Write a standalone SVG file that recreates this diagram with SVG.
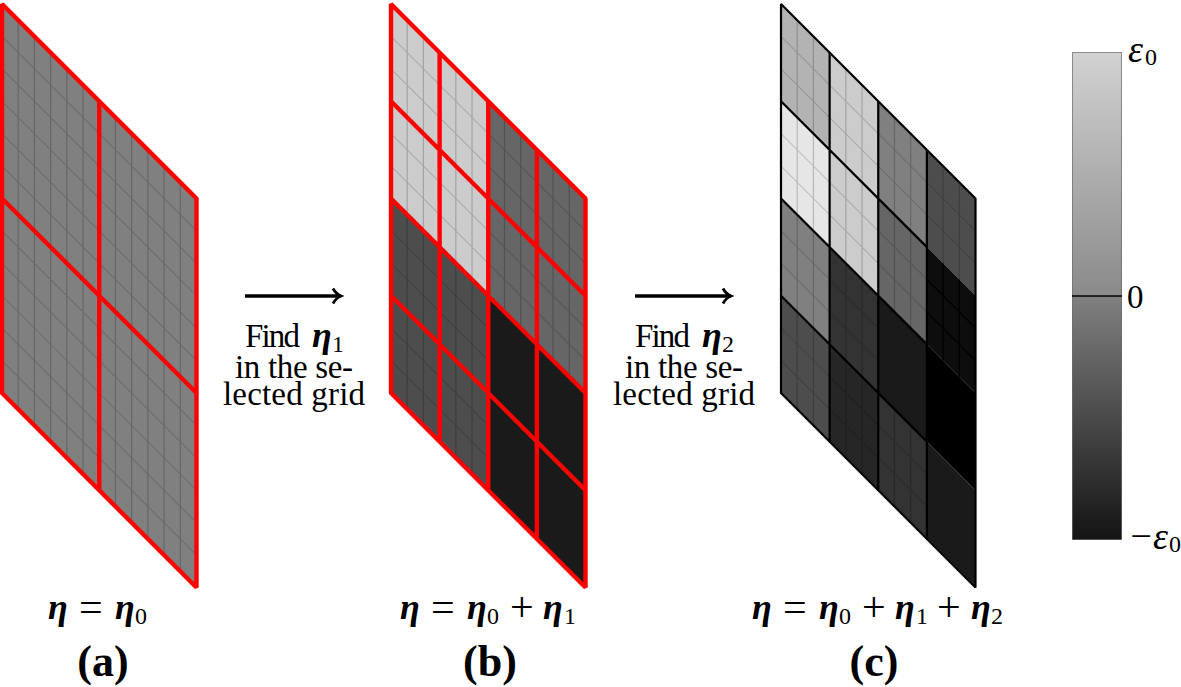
<svg xmlns="http://www.w3.org/2000/svg" width="1181" height="687" viewBox="0 0 1181 687">
<style>
text{font-family:"Liberation Serif","Times New Roman",serif;fill:#000}
.lb{font-size:33px}
.m{font-size:42px}
.b{font-weight:bold;font-style:italic;font-size:36px}
.s{font-size:24px}
.i{font-style:italic;font-size:38px}
.t{font-weight:bold;font-size:44px;text-anchor:middle}
.g{fill:none;stroke:#000;stroke-opacity:.2;stroke-width:1.2;vector-effect:non-scaling-stroke}
.r{fill:none;stroke:#f00;stroke-width:4.4;stroke-linejoin:bevel;vector-effect:non-scaling-stroke}
.k{fill:none;stroke:#000;stroke-width:2.2;stroke-linejoin:bevel;vector-effect:non-scaling-stroke}
.cn{fill:none;stroke:#000;stroke-width:3.4;marker-end:url(#ah)}
</style>
<defs>
<path id="grid" d="M16.21 0V389M32.42 0V389M48.62 0V389M64.83 0V389M81.04 0V389M97.25 0V389M113.46 0V389M129.67 0V389M145.88 0V389M162.08 0V389M178.29 0V389M0 32.42H194.5M0 64.83H194.5M0 97.25H194.5M0 129.67H194.5M0 162.08H194.5M0 194.5H194.5M0 226.92H194.5M0 259.33H194.5M0 291.75H194.5M0 324.17H194.5M0 356.58H194.5"/>
<marker id="ah" markerUnits="userSpaceOnUse" markerWidth="14" markerHeight="20" refX="11" refY="10" orient="auto">
<path d="M3 2.5Q6 8 11 10Q6 12 3 17.5" fill="none" stroke="#000" stroke-width="2.8"/>
</marker>
<linearGradient id="cb" x1="0" y1="0" x2="0" y2="1">
<stop offset="0" stop-color="#d2d2d2"/><stop offset=".5" stop-color="#8a8a8a"/><stop offset=".5" stop-color="#808080"/><stop offset="1" stop-color="#141414"/>
</linearGradient>
</defs>

<g id="panel-a" transform="matrix(1 1 0 1 2 4)">
<rect width="194.5" height="389" fill="#808080"/>
<use href="#grid" class="g"/>
<path class="r" d="M97.25 0V389M0 194.5H194.5"/>
<rect class="r" width="194.5" height="389"/>
</g>

<g id="panel-b" transform="matrix(1 1 0 1 391 4)">
<rect width="97.25" height="194.5" fill="#ccc"/>
<rect y="194.5" width="97.25" height="194.5" fill="#4d4d4d"/>
<rect x="97.25" width="97.25" height="194.5" fill="#666"/>
<use href="#grid" class="g"/>
<rect x="97.25" y="194.5" width="97.25" height="194.5" fill="#1a1a1a"/>
<path class="r" d="M48.62 0V389M97.25 0V389M145.88 0V389M0 97.25H194.5M0 194.5H194.5M0 291.75H194.5"/>
<rect class="r" width="194.5" height="389"/>
</g>

<g id="panel-c" transform="matrix(1 1 0 1 781 4)">
<rect x="0" y="0" width="48.63" height="97.25" fill="#b3b3b3"/>
<rect x="0" y="97.25" width="48.63" height="97.25" fill="#e6e6e6"/>
<rect x="0" y="194.5" width="48.63" height="97.25" fill="#808080"/>
<rect x="0" y="291.75" width="48.63" height="97.25" fill="#4d4d4d"/>
<rect x="48.62" y="0" width="48.63" height="194.5" fill="#ccc"/>
<rect x="48.62" y="194.5" width="48.63" height="97.25" fill="#333"/>
<rect x="48.62" y="291.75" width="48.63" height="97.25" fill="#262626"/>
<rect x="97.25" y="0" width="48.63" height="97.25" fill="#808080"/>
<rect x="97.25" y="97.25" width="48.63" height="97.25" fill="#666"/>
<rect x="97.25" y="291.75" width="48.63" height="97.25" fill="#333"/>
<rect x="145.87" y="0" width="48.63" height="97.25" fill="#4d4d4d"/>
<rect x="145.87" y="97.25" width="48.63" height="97.25" fill="#0d0d0d"/>
<use href="#grid" class="g"/>
<path d="M162.08 97.25V194.5M178.29 97.25V194.5M145.87 129.67H194.5M145.87 162.08H194.5" fill="none" stroke="#000" stroke-width="1.2" vector-effect="non-scaling-stroke"/>
<rect x="97.25" y="194.5" width="48.63" height="97.25" fill="#1a1a1a"/>
<rect x="145.87" y="194.5" width="48.63" height="97.25" fill="#000"/>
<rect x="145.87" y="291.75" width="48.63" height="97.25" fill="#1a1a1a"/>
<path class="k" d="M48.62 0V389M97.25 0V389M145.88 0V389M0 97.25H145.88M0 194.5H145.88M0 291.75H145.88"/>
<rect class="k" width="194.5" height="389"/>
</g>

<g id="connectors">
<path class="cn" d="M245 296H341"/>
<path class="cn" d="M635 296H731"/>
</g>

<g id="step-1">
<text class="lb" x="245" y="347" textLength="55">Find</text>
<text class="b" x="312" y="347">η</text>
<text class="s" x="332" y="352">1</text>
<text class="lb" x="235" y="378" textLength="118">in the se-</text>
<text class="lb" x="223" y="405" textLength="142">lected grid</text>
</g>
<g id="step-2">
<text class="lb" x="635" y="347" textLength="55">Find</text>
<text class="b" x="702" y="347">η</text>
<text class="s" x="722" y="352">2</text>
<text class="lb" x="625" y="378" textLength="118">in the se-</text>
<text class="lb" x="613" y="405" textLength="142">lected grid</text>
</g>

<g id="colorbar">
<rect x="1072.5" y="52.5" width="49" height="487" fill="url(#cb)" stroke="#000" stroke-opacity=".4"/>
<path d="M1072 296H1122" stroke="#000" stroke-width="1.6"/>
<text class="i" x="1128" y="62">ε</text>
<text class="s" x="1145" y="65">0</text>
<text class="lb" x="1127" y="308" font-size="35">0</text>
<text class="i" x="1128" y="549">−</text>
<text class="i" x="1153" y="549">ε</text>
<text class="s" x="1169" y="552">0</text>
</g>

<g id="label-a">
<text class="b" x="48" y="619">η</text>
<text class="m" x="79" y="621">=</text>
<text class="b" x="115" y="619">η</text>
<text class="s" x="135" y="624">0</text>
<text class="t" x="103" y="676">(a)</text>
</g>
<g id="label-b">
<text class="b" x="400" y="619">η</text>
<text class="m" x="431" y="621">=</text>
<text class="b" x="467" y="619">η</text>
<text class="s" x="487" y="624">0</text>
<text class="m" x="510" y="621">+</text>
<text class="b" x="543" y="619">η</text>
<text class="s" x="564" y="624">1</text>
<text class="t" x="490" y="676">(b)</text>
</g>
<g id="label-c">
<text class="b" x="752" y="619">η</text>
<text class="m" x="783" y="621">=</text>
<text class="b" x="819" y="619">η</text>
<text class="s" x="839" y="624">0</text>
<text class="m" x="862" y="621">+</text>
<text class="b" x="895" y="619">η</text>
<text class="s" x="916" y="624">1</text>
<text class="m" x="937" y="621">+</text>
<text class="b" x="971" y="619">η</text>
<text class="s" x="991" y="624">2</text>
<text class="t" x="874" y="676">(c)</text>
</g>
</svg>
